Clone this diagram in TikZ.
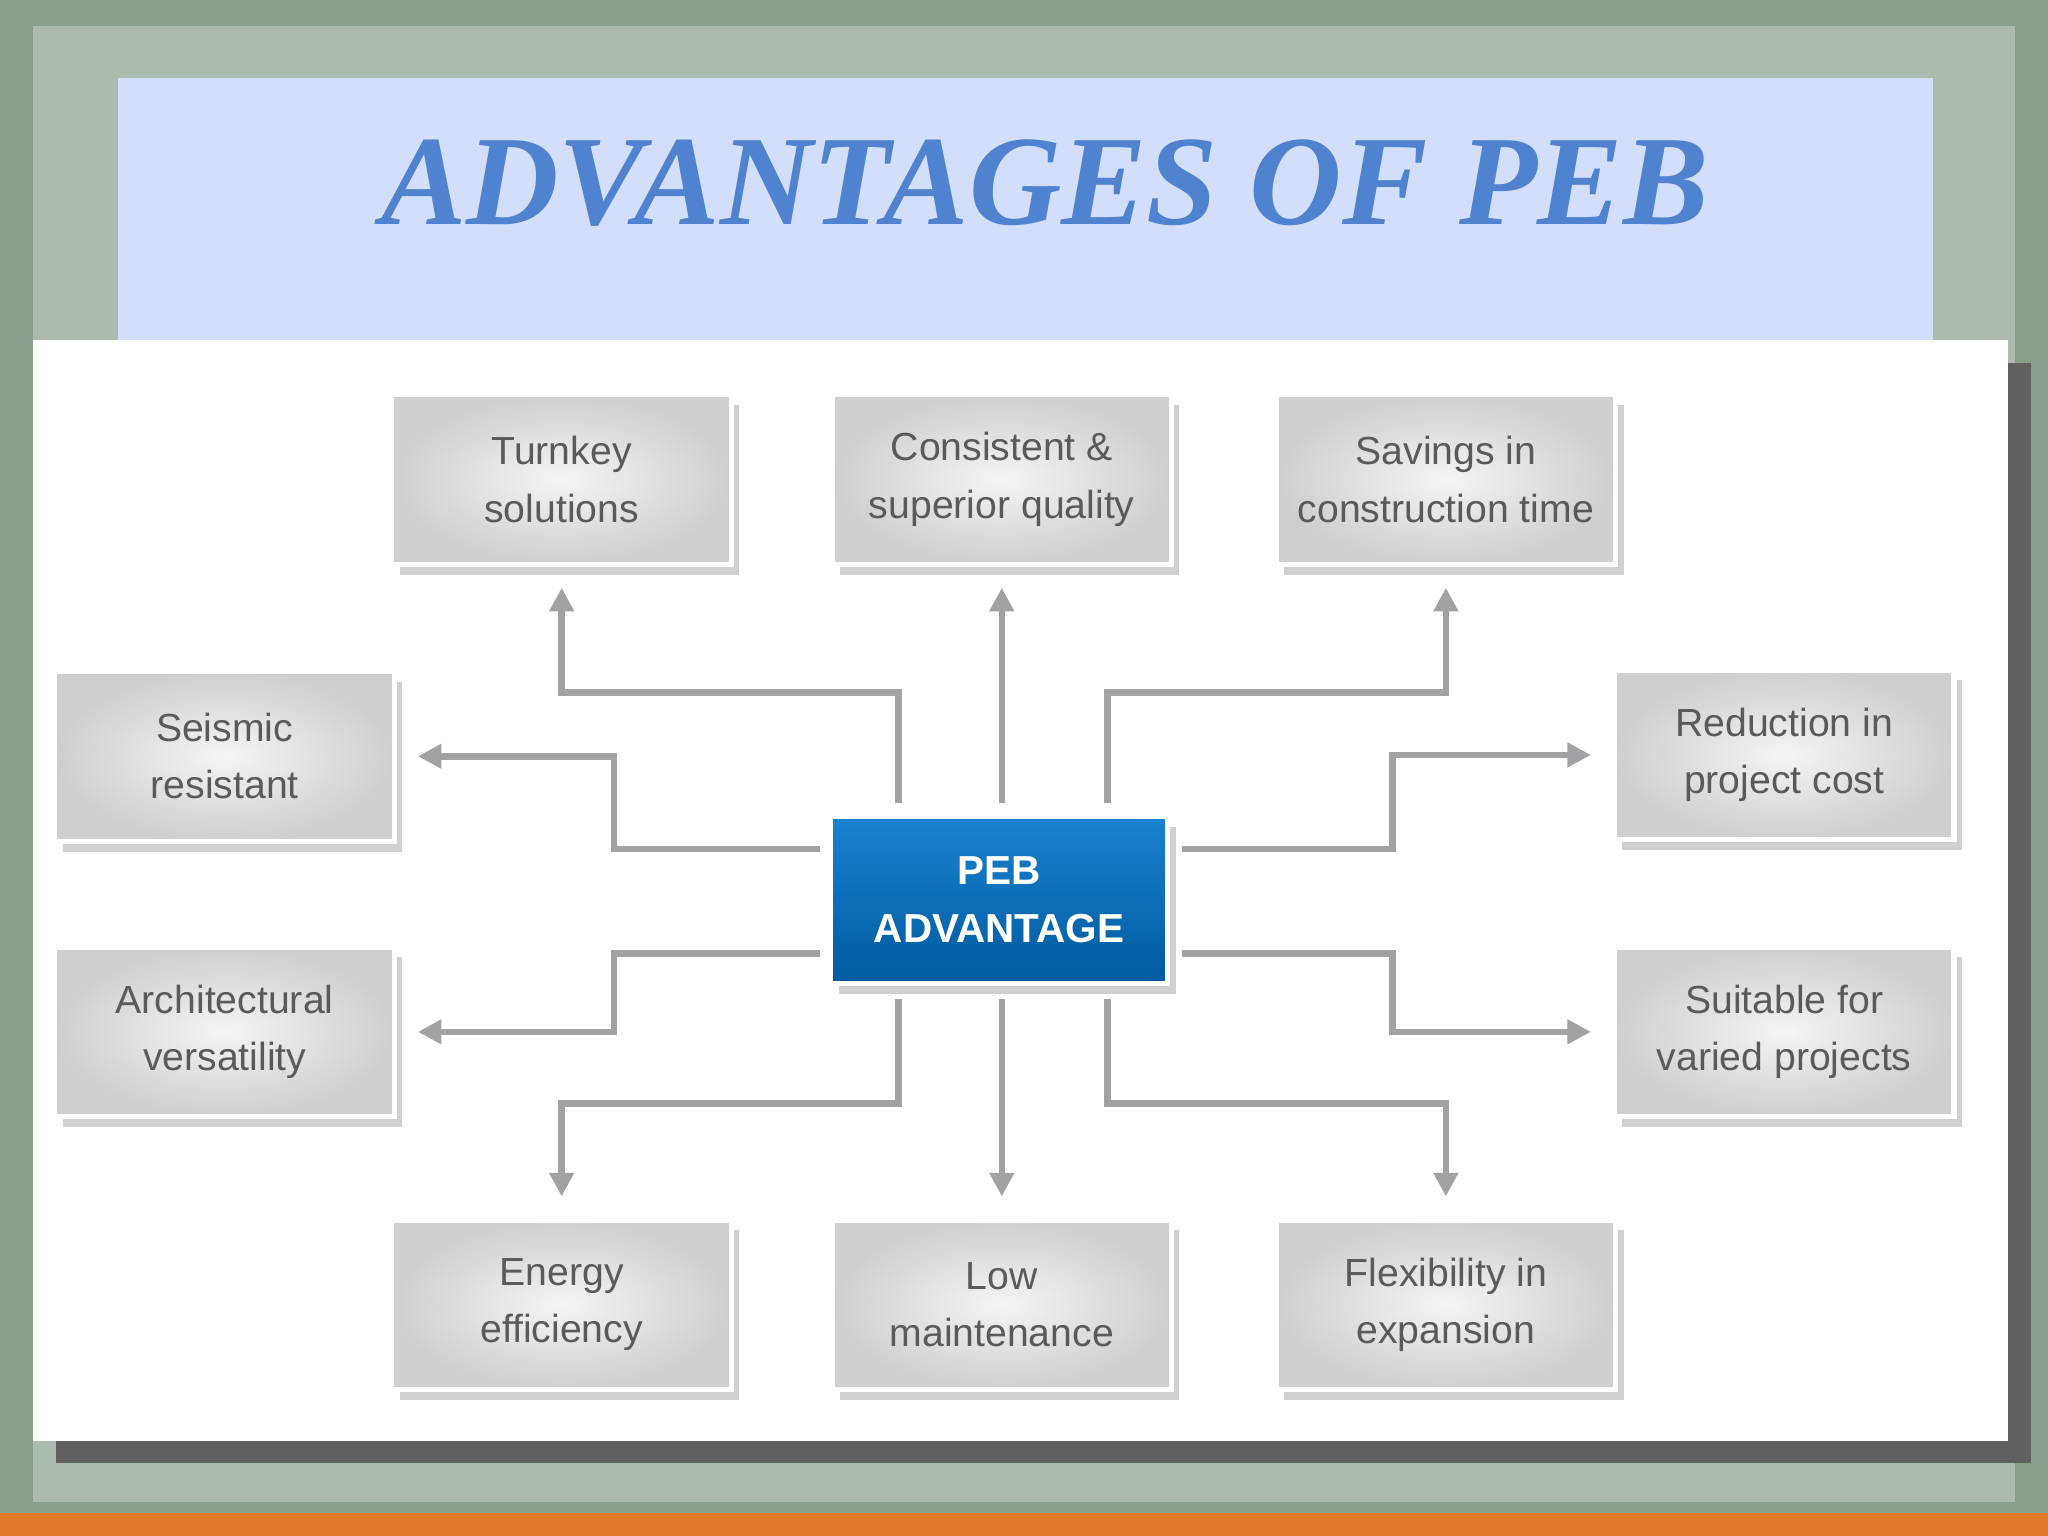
\documentclass[tikz,border=0pt]{standalone}
\usepackage{fontspec}
\setmainfont{Liberation Sans}
\newfontfamily\titlefont{Liberation Serif}
\usetikzlibrary{shadows,arrows.meta,calc}
\definecolor{frame}{HTML}{8A9E8C}
\definecolor{lav}{HTML}{D3DEFA}
\definecolor{ttl}{HTML}{4F82CF}
\definecolor{lnk}{HTML}{A2A2A4}
\definecolor{txt}{HTML}{5A5A5A}
\definecolor{hubtop}{HTML}{1A82D0}
\definecolor{hubbot}{HTML}{005A9E}
\definecolor{orng}{HTML}{E07A2A}
\tikzset{
 card/.style={draw=white,line width=2pt,minimum width=130pt,minimum height=65pt,
   inner color=gray!8,outer color=gray!38,
   drop shadow={shadow xshift=3pt,shadow yshift=-4pt,fill=gray!60,opacity=.6},
   align=center,text=txt,font=\fontsize{15}{22}\selectfont},
 hub/.style={draw=white,line width=2pt,minimum width=129pt,minimum height=64pt,
   top color=hubtop,bottom color=hubbot,text=white,align=center,
   font=\bfseries\fontsize{15.5}{22}\selectfont,
   drop shadow={shadow xshift=3pt,shadow yshift=-4pt,fill=gray!60,opacity=.6}},
 lk/.style={draw=lnk,line width=2.5pt},
 ar/.style={lk,-{Triangle[length=9pt,width=9pt]}}
}
\begin{document}
\begin{tikzpicture}[x=0.5pt,y=-0.5pt]
\useasboundingbox (0,0) rectangle (1568,1176);
\fill[frame] (0,0) rectangle (1568,1176);
\fill[frame!70!white] (25,20) rectangle (1543,1150);
\fill[lav] (90,60) rectangle (1480,262);
\fill[gray!75!black] (43,278) rectangle (1555,1120);
\fill[white] (25,260) rectangle (1537,1103);
\fill[orng] (0,1158) rectangle (1568,1176);
\node (title) at (800,140) {\titlefont\bfseries\itshape\fontsize{49}{58}\selectfont\color{ttl}ADVANTAGES OF PEB};
\node[hub] (c) at (765,689) {PEB\\ADVANTAGE};
\node[card] (t1) at (430,367) {Turnkey\\solutions};
\node[card] (t2) at (767,367) {Consistent \&\\superior quality};
\node[card] (t3) at (1107,367) {Savings in\\construction time};
\node[card] (l1) at (172,579) {Seismic\\resistant};
\node[card] (l2) at (172,790) {Architectural\\versatility};
\node[card] (r1) at (1366,578) {Reduction in\\project cost};
\node[card] (r2) at (1366,790) {Suitable for\\varied projects};
\node[card] (b1) at (430,999) {Energy\\efficiency};
\node[card] (b2) at (767,999) {Low\\maintenance};
\node[card] (b3) at (1107,999) {Flexibility in\\expansion};
\coordinate (n1) at (688,615);
\coordinate (n2) at (767,615);
\coordinate (n3) at (848,615);
\coordinate (s1) at (688,765);
\coordinate (s2) at (767,765);
\coordinate (s3) at (848,765);
\coordinate (w1) at (628,650);
\coordinate (w2) at (628,730);
\coordinate (e1) at (905,650);
\coordinate (e2) at (905,730);
\draw[ar] (n1) |- (430,530) -- ([yshift=-8pt]t1.south);
\draw[ar] (n2) -- ([yshift=-8pt]t2.south);
\draw[ar] (n3) |- (1107,530) -- ([yshift=-8pt]t3.south);
\draw[ar] (w1) -- (470,650) |- ([xshift=8pt]l1.east);
\draw[ar] (w2) -- (470,730) |- ([xshift=8pt]l2.east);
\draw[ar] (e1) -- (1066,650) |- ([xshift=-8pt]r1.west);
\draw[ar] (e2) -- (1066,730) |- ([xshift=-8pt]r2.west);
\draw[ar] (s1) |- (430,845) -- ([yshift=8pt]b1.north);
\draw[ar] (s2) -- ([yshift=8pt]b2.north);
\draw[ar] (s3) |- (1107,845) -- ([yshift=8pt]b3.north);
\end{tikzpicture}
\end{document}
